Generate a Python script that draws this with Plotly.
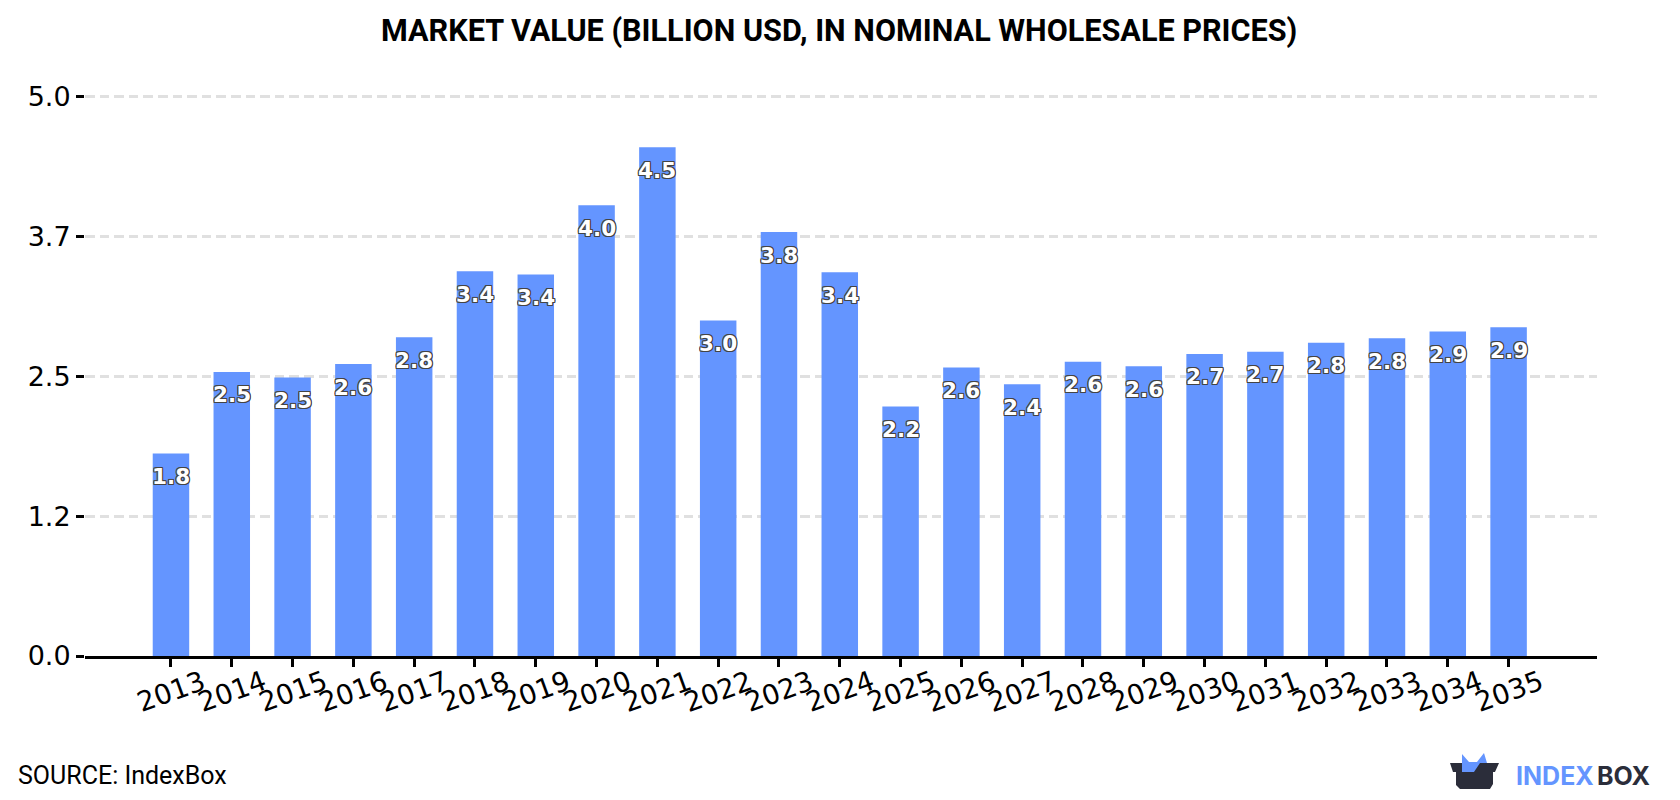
import plotly.graph_objects as go

years = list(range(2013, 2036))
values = [1.81, 2.54, 2.49, 2.61, 2.849, 3.44, 3.41, 4.03, 4.549, 3.00, 3.79, 3.43,
          2.23, 2.58, 2.43, 2.63, 2.59, 2.70, 2.72, 2.80, 2.84, 2.90, 2.94]
y_ticks = [0, 1.25, 2.5, 3.75, 5]
y_tick_labels = ["0.0", "1.2", "2.5", "3.7", "5.0"]
title_text = "MARKET VALUE (BILLION USD, IN NOMINAL WHOLESALE PRICES)"
source_text = "SOURCE: IndexBox"

BAR_BLUE = "#6495ff"
LOGO_DARK = "#2b2d3a"
W, H = 1680, 800
PLOT_L, PLOT_R, PLOT_B = 85, 1597, 656
PX_PER_UNIT = 111.9
Y_MAX = 5.06  # headroom so the 5.0 gridline is drawn inside the plot area
PLOT_T = PLOT_B - Y_MAX * PX_PER_UNIT


def px(x, y):
    """Page pixels to paper coordinates."""
    return (x - PLOT_L) / (PLOT_R - PLOT_L), (PLOT_B - y) / (PLOT_B - PLOT_T)


def path(points):
    parts = []
    for i, (x, y) in enumerate(points):
        u, v = px(x, y)
        parts.append(f"{'M' if i == 0 else 'L'}{u:.5f},{v:.5f}")
    return " ".join(parts) + " Z"


fig = go.Figure(go.Bar(x=years, y=values, width=0.6, marker=dict(color=BAR_BLUE, line=dict(width=0)),
                       hoverinfo="x+y"))

annotations = []
# value labels sit a fixed distance below each bar top
outline = ("1px 1px 0 #444, -1px 1px 0 #444, 1px -1px 0 #444, -1px -1px 0 #444, "
           "1px 0 0 #444, -1px 0 0 #444, 0 1px 0 #444, 0 -1px 0 #444")
for yr, v in zip(years, values):
    annotations.append(dict(x=yr, y=v, xref="x", yref="y", text=f"{v:.1f}", showarrow=False,
                            yanchor="middle", xanchor="center", yshift=-23,
                            font=dict(family="DejaVu Sans", size=21.5, color="white", weight="bold",
                                      shadow=outline)))
# rotated year labels, centred under their ticks
for yr in years:
    annotations.append(dict(x=yr, y=px(0, 691)[1], xref="x", yref="paper", text=str(yr), showarrow=False,
                            textangle=-20, xanchor="center", yanchor="middle",
                            font=dict(family="DejaVu Sans", size=27.5, color="black")))

u, v = px(W / 2 - 1, 31)
annotations.append(dict(x=u, y=v, xref="paper", yref="paper", text=f"<b>{title_text}</b>", showarrow=False,
                        xanchor="center", yanchor="middle",
                        font=dict(family="Roboto", size=30.6, color="black")))
u, v = px(16, 776)
annotations.append(dict(x=u, y=v, xref="paper", yref="paper", text=source_text, showarrow=False,
                        xanchor="left", yanchor="middle", font=dict(family="Roboto", size=25, color="black")))
u, v = px(1514, 776)
annotations.append(dict(x=u, y=v, xref="paper", yref="paper", text="<b>INDEX</b>", showarrow=False,
                        xanchor="left", yanchor="middle",
                        font=dict(family="Inter", size=25, color=BAR_BLUE, weight=800)))
u, v = px(1652, 776)
annotations.append(dict(x=u, y=v, xref="paper", yref="paper", text="<b>BOX</b>", showarrow=False,
                        xanchor="right", yanchor="middle",
                        font=dict(family="Inter", size=25, color=LOGO_DARK, weight=800)))

# logo: a dark open box with a blue shape rising out of it
logo_box = [(1450, 763), (1499, 763), (1495, 772), (1493, 772), (1493, 784), (1490, 789),
            (1460, 789), (1456, 785), (1456, 772), (1453, 772)]
logo_top = [(1462, 772), (1462, 754), (1469, 762), (1477, 762), (1484, 753), (1487, 763),
            (1480, 763), (1474, 772)]
shapes = [
    dict(type="path", xref="paper", yref="paper", path=path(logo_box), fillcolor=LOGO_DARK, line=dict(width=0)),
    dict(type="path", xref="paper", yref="paper", path=path(logo_top), fillcolor=BAR_BLUE, line=dict(width=0)),
]

fig.update_layout(
    width=W, height=H,
    margin=dict(l=PLOT_L, r=W - PLOT_R, t=PLOT_T, b=H - PLOT_B, pad=0),
    paper_bgcolor="white", plot_bgcolor="white",
    showlegend=False, annotations=annotations, shapes=shapes,
    xaxis=dict(range=[2013 - 1.414, 2035 + 1.454], tickmode="array", tickvals=years, showticklabels=False,
               ticks="outside", ticklen=8, tickwidth=2.5, tickcolor="black", showgrid=False,
               showline=True, linecolor="black", linewidth=2.5, zeroline=False),
    yaxis=dict(range=[0, Y_MAX], tickmode="array", tickvals=y_ticks, ticktext=y_tick_labels,
               ticks="outside", ticklen=8, tickwidth=2.5, tickcolor="black",
               tickfont=dict(family="DejaVu Sans", size=27, color="black"),
               showgrid=True, gridcolor="#e0e0e0", gridwidth=2.5, griddash="9.6px,5px",
               showline=False, zeroline=False),
)

fig.write_html("out.html")
